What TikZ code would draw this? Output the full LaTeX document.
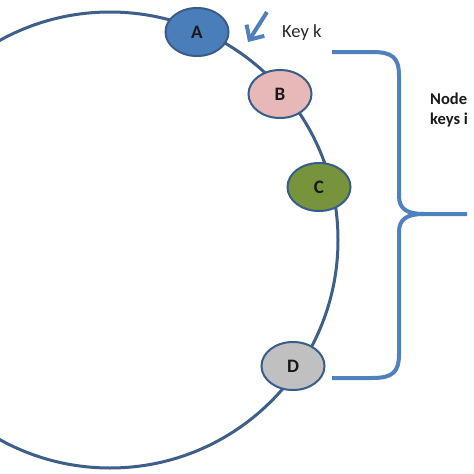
\documentclass[tikz,border=0pt]{standalone}
\usepackage{fontspec}
\setmainfont{Carlito}
\usetikzlibrary{shapes.geometric,arrows.meta}
\definecolor{ringcol}{HTML}{3D5F8A}
\definecolor{edgecol}{HTML}{385D8A}
\definecolor{accent}{HTML}{4F81BD}
\definecolor{fillA}{HTML}{4A7EBB}
\definecolor{fillB}{HTML}{E6B9B8}
\definecolor{fillC}{HTML}{77933C}
\definecolor{fillD}{HTML}{C0C0C0}
\tikzset{
  ringline/.style={draw=ringcol,line width=3pt},
  peer/.style={ellipse,draw=edgecol,line width=2pt,minimum width=63pt,minimum height=48pt,inner sep=0pt,
    font=\fontsize{19}{19}\selectfont\bfseries,text=black!90},
  accentline/.style={draw=accent,line width=4pt},
  label/.style={font=\fontsize{18.5}{18.5}\selectfont,text=black!85,inner sep=0pt},
  bracetext/.style={font=\fontsize{16.5}{20}\selectfont\bfseries,text=black!90,inner sep=0pt,align=left}
}
\begin{document}
\begin{tikzpicture}[x=1pt,y=-1pt]
\useasboundingbox (0,0) rectangle (474,474);
\fill[white] (0,0) rectangle (474,474);
\begin{scope}
\clip (0,0) rectangle (474,474);
\node[circle,ringline,minimum size=456pt,inner sep=0pt] (ring) at (110,240) {};
\end{scope}
\node[peer,fill=fillA] (A) at (197,32) {A};
\node[peer,fill=fillB] (B) at (280,94) {B};
\node[peer,fill=fillC] (C) at (319,187) {C};
\node[peer,fill=fillD] (D) at (293,366) {D};
\coordinate (ks) at (267,12);
\coordinate (ke) at (248,42);
\draw[accentline,-{Straight Barb[length=11pt,width=21pt]}] (ks) -- (ke);
\node[label,anchor=west] (key) at (282,33) {Key k};
\coordinate (bt) at (332,52);
\coordinate (bb) at (332,378);
\coordinate (tip) at (467,214);
\draw[accentline,line join=round] (bt) -- (372,52) .. controls (393,52) and (399,58) .. (399,76)
  -- (399,196) .. controls (399,209) and (407,214) .. (424,214) -- (tip);
\draw[accentline,line join=round] (bb) -- (372,378) .. controls (393,378) and (399,372) .. (399,354)
  -- (399,232) .. controls (399,219) and (407,214) .. (424,214);
\node[bracetext,anchor=north west] (txt) at (430,93) {Node\\keys i};
\end{tikzpicture}
\end{document}
